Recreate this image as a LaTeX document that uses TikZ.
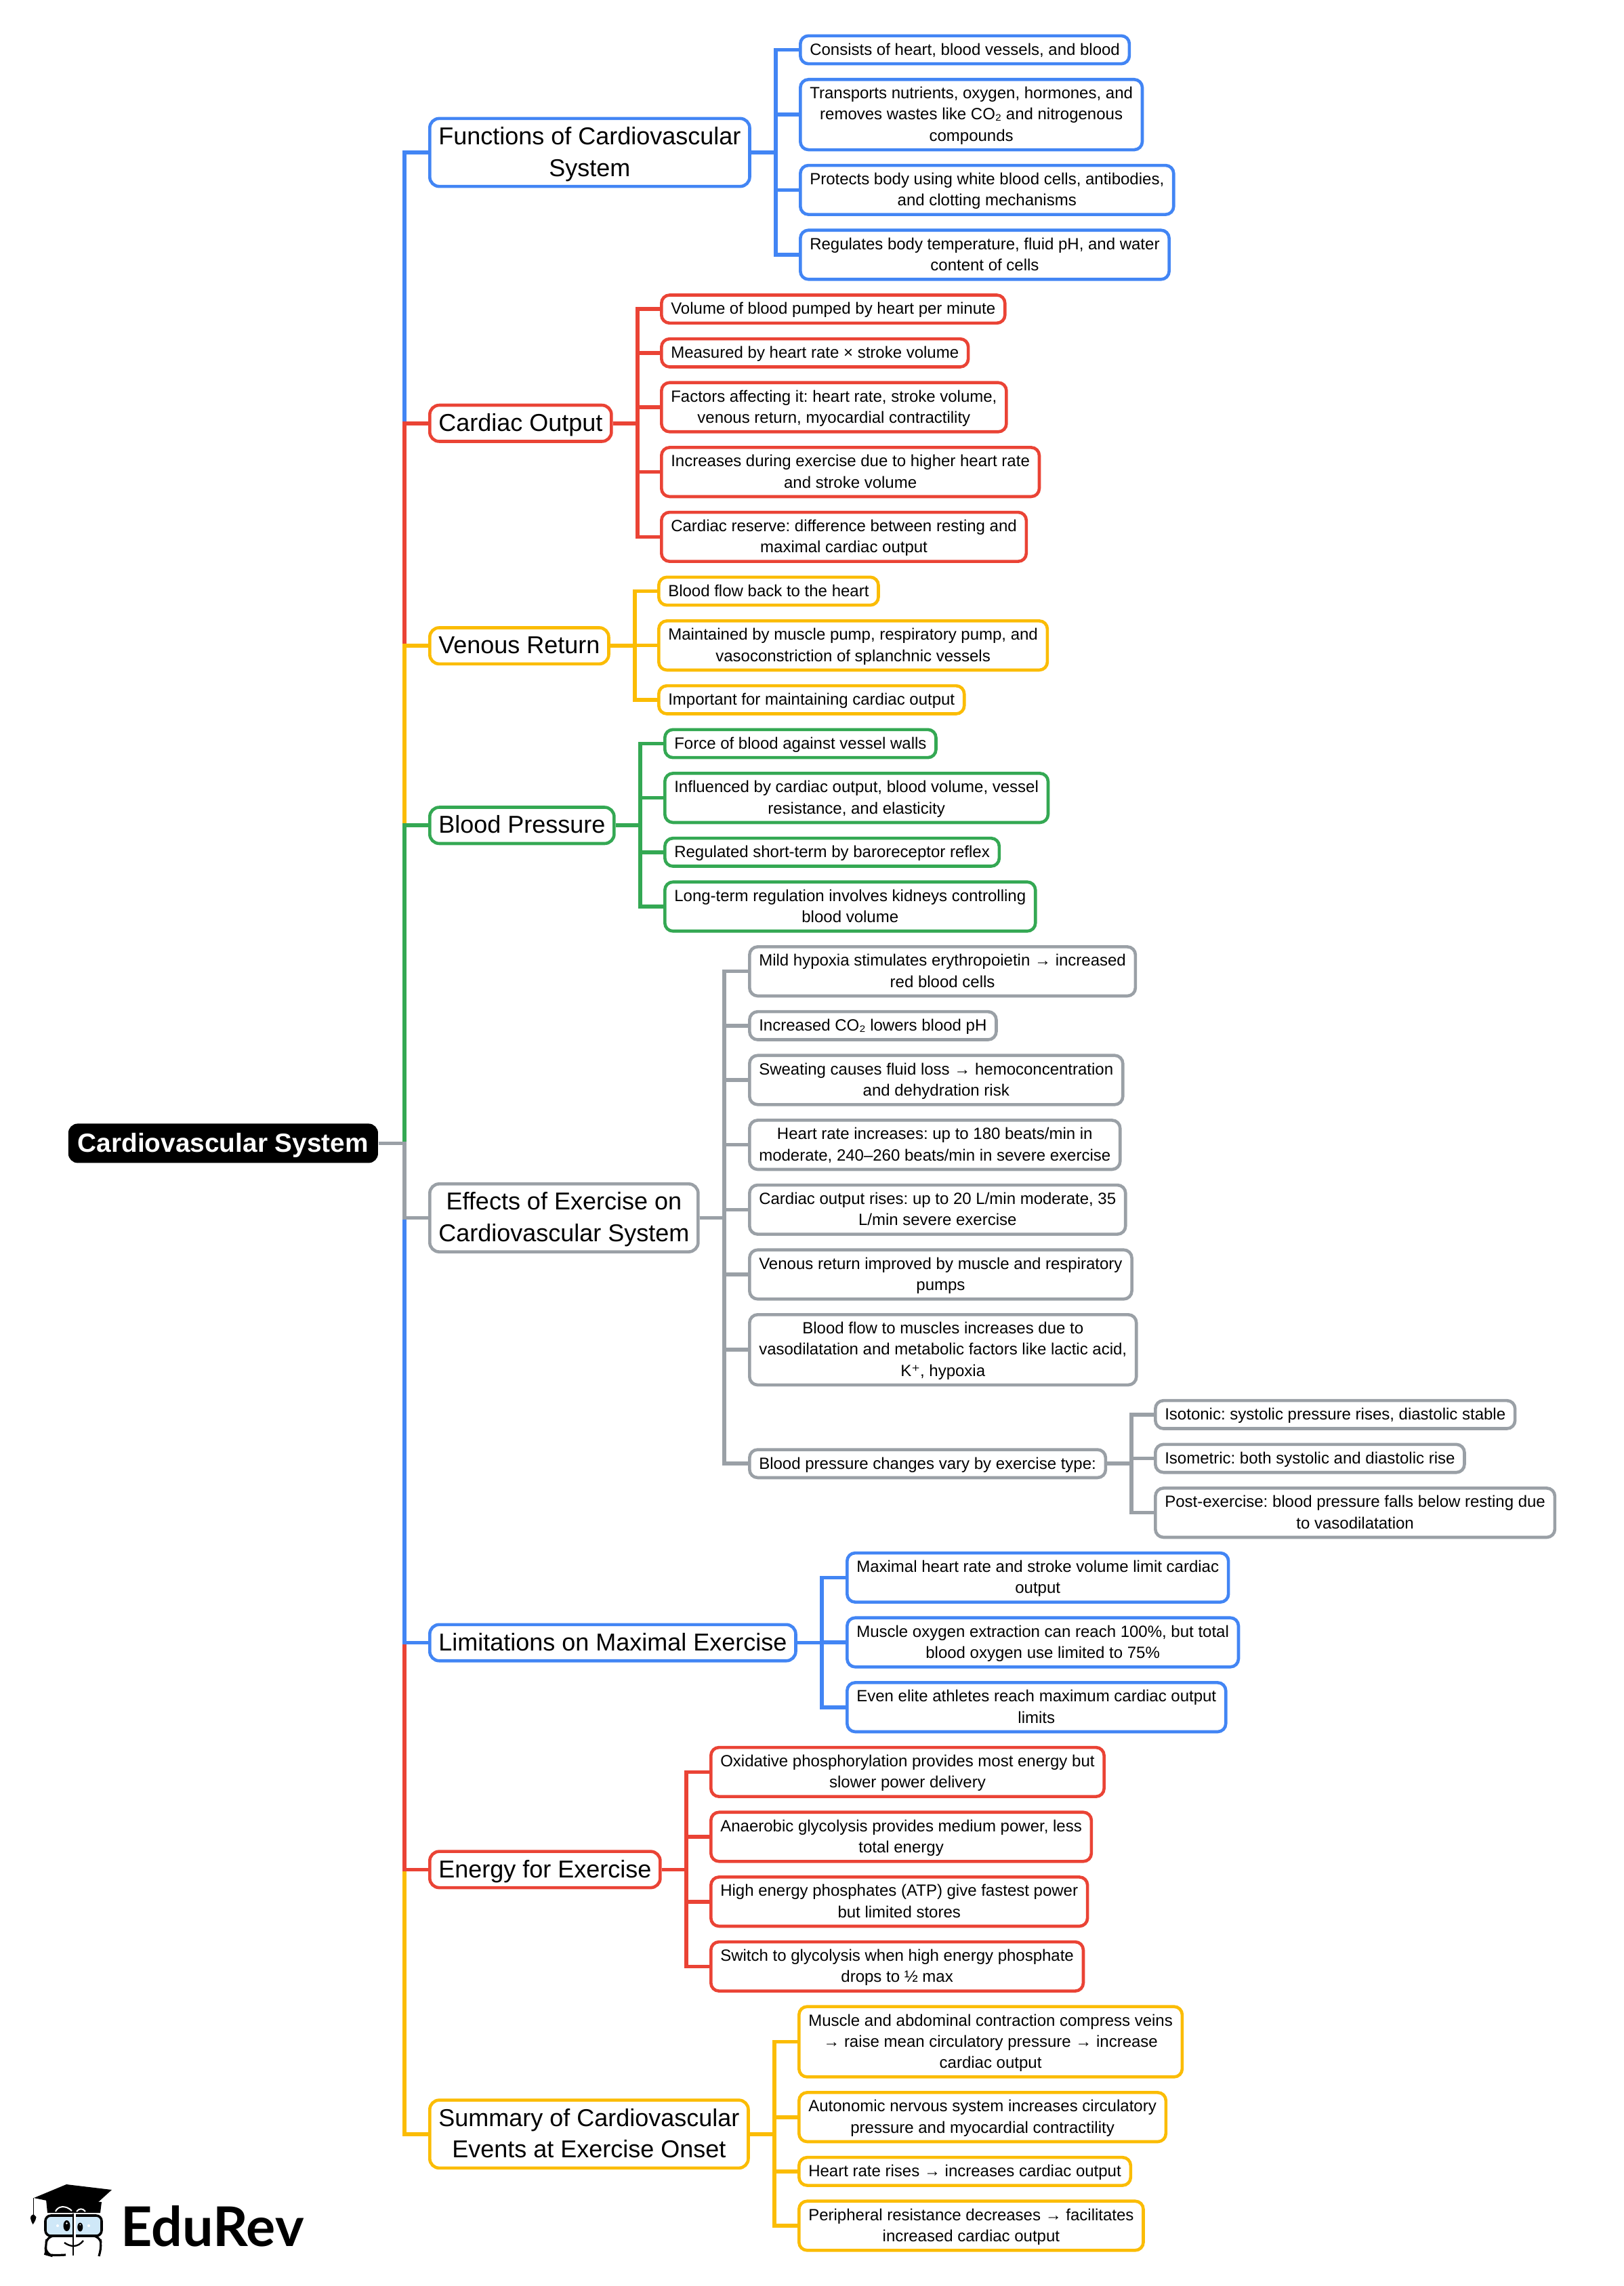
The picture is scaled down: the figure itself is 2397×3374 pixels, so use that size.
\documentclass[tikz,border=0pt]{standalone}
\usepackage{fontspec}
\setmainfont{Liberation Sans}
\newfontfamily\logofont{Lato}
\newfontfamily\plusfont{DejaVu Sans}
\definecolor{map-blue}{RGB}{66, 133, 244}
\definecolor{map-red}{RGB}{234, 67, 53}
\definecolor{map-yellow}{RGB}{251, 188, 4}
\definecolor{map-green}{RGB}{52, 168, 83}
\definecolor{map-gray}{RGB}{154, 160, 166}
\definecolor{logo-blue}{RGB}{207, 232, 248}
\AtBeginDocument{\frenchspacing}
\newcommand{\rowstrut}{\vrule width 0pt height .75\baselineskip depth .25\baselineskip}
\newcommand{\rowtext}[1]{\rowstrut #1\rowstrut}
\tikzset{
leaf/.style={draw=#1, fill=white, line width=1.15pt, rounded corners=3pt, anchor=west, align=center, inner xsep=3.5pt, inner ysep=1.27pt, font=\fontsize{6}{7.8}\selectfont},
branch/.style={draw=#1, fill=white, line width=1.15pt, rounded corners=3.5pt, anchor=west, align=center, inner xsep=3.25pt, inner ysep=.83pt, font=\fontsize{9}{11.7}\selectfont},
rootnode/.style={fill=black, text=white, rounded corners=3.5pt, anchor=west, align=center, inner xsep=3.5pt, inner ysep=.95pt, font=\fontsize{9.7}{12.6}\selectfont\bfseries},
wire/.style={draw=#1, line width=1.4pt}
}
\begin{document}
\begin{tikzpicture}[x=0.25pt, y=-0.25pt]
\useasboundingbox (0,0) rectangle (2397,3374);
\node[rootnode] (root) at (100,1687.4) {\rowtext{Cardiovascular System}};
\node[branch=map-blue] (func) at (632,225) {\rowtext{Functions of Cardiovascular\\System}};
\node[branch=map-red] (card) at (632,624.75) {\rowtext{Cardiac Output}};
\node[branch=map-yellow] (veno) at (632,953.17) {\rowtext{Venous Return}};
\node[branch=map-green] (bpre) at (632,1218.25) {\rowtext{Blood Pressure}};
\node[branch=map-gray] (effe) at (632,1797.46) {\rowtext{Effects of Exercise on\\Cardiovascular System}};
\node[branch=map-blue] (limi) at (632,2424.5) {\rowtext{Limitations on Maximal Exercise}};
\node[branch=map-red] (ener) at (632,2759.33) {\rowtext{Energy for Exercise}};
\node[branch=map-yellow] (summ) at (632,3149.75) {\rowtext{Summary of Cardiovascular\\Events at Exercise Onset}};
\node[leaf=map-blue] (func1) at (1179,73.5) {\rowtext{Consists of heart, blood vessels, and blood}};
\node[leaf=map-blue] (func2) at (1179,169.17) {\rowtext{Transports nutrients, oxygen, hormones, and\\removes wastes like CO₂ and nitrogenous\\compounds}};
\node[leaf=map-blue] (func3) at (1179,280.33) {\rowtext{Protects body using white blood cells, antibodies,\\and clotting mechanisms}};
\node[leaf=map-blue] (func4) at (1179,376) {\rowtext{Regulates body temperature, fluid pH, and water\\content of cells}};
\node[leaf=map-red] (card1) at (974,456.17) {\rowtext{Volume of blood pumped by heart per minute}};
\node[leaf=map-red] (card2) at (974,520.83) {\rowtext{Measured by heart rate × stroke volume}};
\node[leaf=map-red] (card3) at (974,601) {\rowtext{Factors affecting it: heart rate, stroke volume,\\venous return, myocardial contractility}};
\node[leaf=map-red] (card4) at (974,696.67) {\rowtext{Increases during exercise due to higher heart rate\\and stroke volume}};
\node[leaf=map-red] (card5) at (974,792.33) {\rowtext{Cardiac reserve: difference between resting and\\maximal cardiac output}};
\node[leaf=map-yellow] (veno1) at (970,872.5) {\rowtext{Blood flow back to the heart}};
\node[leaf=map-yellow] (veno2) at (970,952.67) {\rowtext{Maintained by muscle pump, respiratory pump, and\\vasoconstriction of splanchnic vessels}};
\node[leaf=map-yellow] (veno3) at (970,1032.83) {\rowtext{Important for maintaining cardiac output}};
\node[leaf=map-green] (bpre1) at (979,1097.5) {\rowtext{Force of blood against vessel walls}};
\node[leaf=map-green] (bpre2) at (979,1177.67) {\rowtext{Influenced by cardiac output, blood volume, vessel\\resistance, and elasticity}};
\node[leaf=map-green] (bpre3) at (979,1257.83) {\rowtext{Regulated short-term by baroreceptor reflex}};
\node[leaf=map-green] (bpre4) at (979,1338) {\rowtext{Long-term regulation involves kidneys controlling\\blood volume}};
\node[leaf=map-gray] (effe1) at (1104,1433.67) {\rowtext{Mild hypoxia stimulates erythropoietin → increased\\red blood cells}};
\node[leaf=map-gray] (effe2) at (1104,1513.83) {\rowtext{Increased CO₂ lowers blood pH}};
\node[leaf=map-gray] (effe3) at (1104,1594) {\rowtext{Sweating causes fluid loss → hemoconcentration\\and dehydration risk}};
\node[leaf=map-gray] (effe4) at (1104,1689.67) {\rowtext{Heart rate increases: up to 180 beats/min in\\moderate, 240–260 beats/min in severe exercise}};
\node[leaf=map-gray] (effe5) at (1104,1785.33) {\rowtext{Cardiac output rises: up to 20 L/min moderate, 35\\L/min severe exercise}};
\node[leaf=map-gray] (effe6) at (1104,1881) {\rowtext{Venous return improved by muscle and respiratory\\pumps}};
\node[leaf=map-gray] (effe7) at (1104,1992.17) {\rowtext{Blood flow to muscles increases due to\\vasodilatation and metabolic factors like lactic acid,\\K{\plusfont ⁺}, hypoxia}};
\node[leaf=map-gray] (effe8) at (1104,2160.25) {\rowtext{Blood pressure changes vary by exercise type:}};
\node[leaf=map-gray] (type1) at (1703,2087.83) {\rowtext{Isotonic: systolic pressure rises, diastolic stable}};
\node[leaf=map-gray] (type2) at (1703,2152.5) {\rowtext{Isometric: both systolic and diastolic rise}};
\node[leaf=map-gray] (type3) at (1703,2232.67) {\rowtext{Post-exercise: blood pressure falls below resting due\\to vasodilatation}};
\node[leaf=map-blue] (limi1) at (1248,2328.33) {\rowtext{Maximal heart rate and stroke volume limit cardiac\\output}};
\node[leaf=map-blue] (limi2) at (1248,2424) {\rowtext{Muscle oxygen extraction can reach 100\%, but total\\blood oxygen use limited to 75\%}};
\node[leaf=map-blue] (limi3) at (1248,2519.67) {\rowtext{Even elite athletes reach maximum cardiac output\\limits}};
\node[leaf=map-red] (ener1) at (1047,2615.33) {\rowtext{Oxidative phosphorylation provides most energy but\\slower power delivery}};
\node[leaf=map-red] (ener2) at (1047,2711) {\rowtext{Anaerobic glycolysis provides medium power, less\\total energy}};
\node[leaf=map-red] (ener3) at (1047,2806.67) {\rowtext{High energy phosphates (ATP) give fastest power\\but limited stores}};
\node[leaf=map-red] (ener4) at (1047,2902.33) {\rowtext{Switch to glycolysis when high energy phosphate\\drops to ½ max}};
\node[leaf=map-yellow] (summ1) at (1177,3013.5) {\rowtext{Muscle and abdominal contraction compress veins\\→ raise mean circulatory pressure → increase\\cardiac output}};
\node[leaf=map-yellow] (summ2) at (1177,3124.67) {\rowtext{Autonomic nervous system increases circulatory\\pressure and myocardial contractility}};
\node[leaf=map-yellow] (summ3) at (1177,3204.83) {\rowtext{Heart rate rises → increases cardiac output}};
\node[leaf=map-yellow] (summ4) at (1177,3285) {\rowtext{Peripheral resistance decreases → facilitates\\increased cardiac output}};
\draw[wire=map-blue] (root.east) -- ++(38,0) |- (func.west);
\draw[wire=map-red] (root.east) -- ++(38,0) |- (card.west);
\draw[wire=map-yellow] (root.east) -- ++(38,0) |- (veno.west);
\draw[wire=map-green] (root.east) -- ++(38,0) |- (bpre.west);
\draw[wire=map-yellow] (root.east) -- ++(38,0) |- (summ.west);
\draw[wire=map-red] (root.east) -- ++(38,0) |- (ener.west);
\draw[wire=map-blue] (root.east) -- ++(38,0) |- (limi.west);
\draw[wire=map-gray] (root.east) -- ++(38,0) |- (effe.west);
\draw[wire=map-blue] (func.east) -- ++(36,0) |- (func1.west);
\draw[wire=map-blue] (func.east) -- ++(36,0) |- (func2.west);
\draw[wire=map-blue] (func.east) -- ++(36,0) |- (func3.west);
\draw[wire=map-blue] (func.east) -- ++(36,0) |- (func4.west);
\draw[wire=map-red] (card.east) -- ++(36,0) |- (card1.west);
\draw[wire=map-red] (card.east) -- ++(36,0) |- (card2.west);
\draw[wire=map-red] (card.east) -- ++(36,0) |- (card3.west);
\draw[wire=map-red] (card.east) -- ++(36,0) |- (card4.west);
\draw[wire=map-red] (card.east) -- ++(36,0) |- (card5.west);
\draw[wire=map-yellow] (veno.east) -- ++(36,0) |- (veno1.west);
\draw[wire=map-yellow] (veno.east) -- ++(36,0) |- (veno2.west);
\draw[wire=map-yellow] (veno.east) -- ++(36,0) |- (veno3.west);
\draw[wire=map-green] (bpre.east) -- ++(36,0) |- (bpre1.west);
\draw[wire=map-green] (bpre.east) -- ++(36,0) |- (bpre2.west);
\draw[wire=map-green] (bpre.east) -- ++(36,0) |- (bpre3.west);
\draw[wire=map-green] (bpre.east) -- ++(36,0) |- (bpre4.west);
\draw[wire=map-gray] (effe.east) -- ++(36,0) |- (effe1.west);
\draw[wire=map-gray] (effe.east) -- ++(36,0) |- (effe2.west);
\draw[wire=map-gray] (effe.east) -- ++(36,0) |- (effe3.west);
\draw[wire=map-gray] (effe.east) -- ++(36,0) |- (effe4.west);
\draw[wire=map-gray] (effe.east) -- ++(36,0) |- (effe5.west);
\draw[wire=map-gray] (effe.east) -- ++(36,0) |- (effe6.west);
\draw[wire=map-gray] (effe.east) -- ++(36,0) |- (effe7.west);
\draw[wire=map-gray] (effe.east) -- ++(36,0) |- (effe8.west);
\draw[wire=map-gray] (effe8.east) -- ++(36,0) |- (type1.west);
\draw[wire=map-gray] (effe8.east) -- ++(36,0) |- (type2.west);
\draw[wire=map-gray] (effe8.east) -- ++(36,0) |- (type3.west);
\draw[wire=map-blue] (limi.east) -- ++(36,0) |- (limi1.west);
\draw[wire=map-blue] (limi.east) -- ++(36,0) |- (limi2.west);
\draw[wire=map-blue] (limi.east) -- ++(36,0) |- (limi3.west);
\draw[wire=map-red] (ener.east) -- ++(36,0) |- (ener1.west);
\draw[wire=map-red] (ener.east) -- ++(36,0) |- (ener2.west);
\draw[wire=map-red] (ener.east) -- ++(36,0) |- (ener3.west);
\draw[wire=map-red] (ener.east) -- ++(36,0) |- (ener4.west);
\draw[wire=map-yellow] (summ.east) -- ++(36,0) |- (summ1.west);
\draw[wire=map-yellow] (summ.east) -- ++(36,0) |- (summ2.west);
\draw[wire=map-yellow] (summ.east) -- ++(36,0) |- (summ3.west);
\draw[wire=map-yellow] (summ.east) -- ++(36,0) |- (summ4.west);
\fill[black] (68,3246) -- (150,3250) -- (148,3266) -- (70,3266) -- cycle;
\fill[black] (50,3244) -- (98,3224) -- (165,3232) -- (133,3261) -- cycle;
\draw[white, line width=.5pt] (82,3264) .. controls (85,3256) and (97,3254) .. (106,3263);
\draw[white, line width=.5pt] (113,3264) .. controls (117,3259) and (122,3259) .. (126,3264);
\draw[black, line width=.4pt] (49.5,3244) -- (49.5,3269);
\fill[black] (49.5,3268) .. controls (46,3270) and (44,3272) .. (45,3274) .. controls (46,3278) and (47,3281) .. (48.5,3283) .. controls (51,3280) and (53,3276) .. (53.5,3272) -- cycle;
\draw[black, fill=white, line width=.8pt, rounded corners=2.5pt] (146,3330) -- (150,3315) -- (147,3300) -- (70,3300) -- (67,3315) -- (68,3327) -- (75,3329) -- (97,3328);
\draw[black, fill=logo-blue, line width=.9pt, rounded corners=2pt] (67,3270) rectangle (150,3300);
\draw[white, line width=1.2pt] (110,3266) -- (110,3330);
\draw[black, line width=.6pt] (108,3267) -- (108,3329);
\fill[white] (85,3285) circle (2);
\fill[white] (131,3285) circle (2);
\fill[black] (98.5,3285) ellipse (5 and 8);
\fill[black] (118.3,3287) ellipse (4 and 6.5);
\fill[white] (98.5,3281.5) circle (1.3);
\fill[white] (118.3,3283.5) circle (1);
\draw[black, line width=.6pt] (95,3310) .. controls (105,3317) and (115,3317) .. (123,3307);
\node[anchor=base west, inner sep=0pt, font=\fontsize{20.2}{24}\logofont\bfseries] (brand) at (178,3315) {EduRev};
\end{tikzpicture}
\end{document}
